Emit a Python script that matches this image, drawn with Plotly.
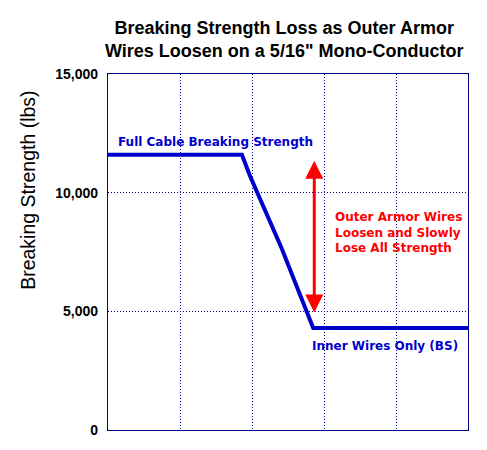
import plotly.graph_objects as go

# Data (x is a unitless position along the chart, 0..5)
curve_x = [0, 1.86, 1.97, 2.41, 2.85, 5]
curve_y = [11600, 11600, 10720, 7670, 4300, 4300]

y_tick_vals = [0, 5000, 10000, 15000]
y_tick_text = ["0", "5,000", "10,000", "15,000"]
x_grid_vals = [1, 2, 3, 4]

arrow_x = 2.865
arrow_top = 11350
arrow_bottom = 4890

title_text = "Breaking Strength Loss as Outer Armor<br>Wires Loosen on a 5/16\" Mono-Conductor"
y_title = "Breaking Strength (lbs)"
label_full = "Full Cable Breaking Strength"
label_inner = "Inner Wires Only (BS)"
label_outer = "Outer Armor Wires<br>Loosen and Slowly<br>Lose All Strength"

NAVY = "#000080"
BLUE = "#0000CC"
RED = "#FF0000"
FONT = "Liberation Sans, Arial, sans-serif"
WIDE = "DejaVu Sans, Verdana, sans-serif"

fig = go.Figure()
fig.add_trace(go.Scatter(x=curve_x, y=curve_y, mode="lines",
                         line=dict(color=BLUE, width=4), hoverinfo="skip",
                         showlegend=False, cliponaxis=False))

fig.update_layout(
    width=487, height=450,
    margin=dict(l=108, r=19, t=74, b=16),
    paper_bgcolor="white", plot_bgcolor="white",
    font=dict(family=FONT, color="black"),
    showlegend=False,
    xaxis=dict(range=[0, 5], tickvals=x_grid_vals, showticklabels=False,
               showgrid=True, gridcolor=NAVY, griddash="1px,2px", gridwidth=1,
               showline=True, linecolor=NAVY, linewidth=1.3, mirror=True,
               zeroline=False, ticks="", fixedrange=True),
    yaxis=dict(range=[0, 15000], tickvals=y_tick_vals, ticktext=y_tick_text,
               showgrid=True, gridcolor=NAVY, griddash="1px,2px", gridwidth=1,
               showline=True, linecolor=NAVY, linewidth=1.3, mirror=True,
               zeroline=False, ticks="", ticklabelstandoff=6,
               tickfont=dict(family=FONT, size=14, color="black", weight="bold"),
               fixedrange=True),
)

annotations = [
    dict(text=title_text, xref="paper", yref="paper", x=0.49, y=1.0,
         yshift=35, xanchor="center", yanchor="middle", showarrow=False,
         font=dict(family=FONT, size=18, color="black", weight="bold")),
    dict(text=y_title, xref="paper", yref="paper", x=-0.222, y=0.672,
         xanchor="center", yanchor="middle", showarrow=False, textangle=-90,
         font=dict(family=FONT, size=19.5, color="black")),
    dict(text=label_full, x=0.11, y=12150, xref="x", yref="y",
         xanchor="left", yanchor="middle", showarrow=False,
         font=dict(family=WIDE, size=12, color=BLUE, weight="bold")),
    dict(text=label_inner, x=2.80, y=3530, xref="x", yref="y",
         xanchor="left", yanchor="middle", showarrow=False,
         font=dict(family=WIDE, size=12, color=BLUE, weight="bold")),
    dict(text=label_outer, x=3.12, y=8330, xref="x", yref="y",
         xanchor="left", yanchor="middle", align="left", showarrow=False,
         font=dict(family=WIDE, size=12, color=RED, weight="bold")),
    dict(x=arrow_x, y=arrow_top, ax=arrow_x, ay=arrow_bottom,
         xref="x", yref="y", axref="x", ayref="y", text="",
         showarrow=True, arrowhead=2, arrowside="end+start", arrowsize=1.2,
         arrowwidth=3, arrowcolor=RED, standoff=0, startstandoff=0),
]
fig.update_layout(annotations=annotations)

fig.write_html("out.html")
